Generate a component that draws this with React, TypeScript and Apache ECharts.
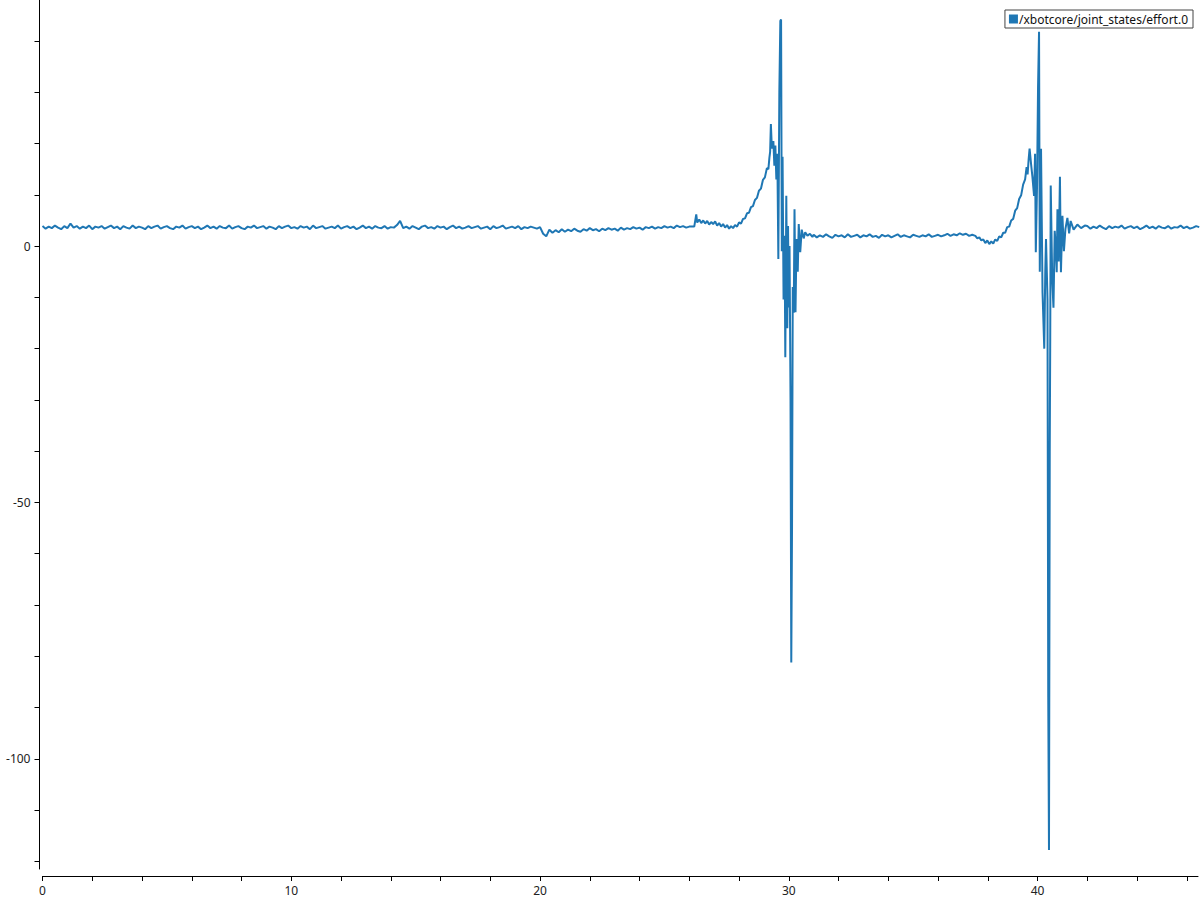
import React, { useEffect, useRef } from 'react';
import * as echarts from 'echarts';

const seriesName = '/xbotcore/joint_states/effort.0';

// evenly sampled quiet stretches (sample period in s)
const sampleStep = 0.125;
const quietStart = [
  3.9, 3.4, 3.8, 3.5, 4.0, 3.6, 3.3, 3.9, 3.5, 4.4, 3.6, 3.9, 3.4, 3.8, 3.5, 4.0, 3.3, 3.8, 3.6, 3.9,
  3.4, 3.7, 4.0, 3.5, 3.8, 3.3, 3.9, 3.6, 3.4, 4.0, 3.5, 3.8, 3.6, 3.3, 3.9, 3.5, 3.8, 4.0, 3.4, 3.7,
  3.9, 3.5, 3.3, 3.8, 3.6, 4.0, 3.4, 3.7, 3.9, 3.5, 3.8, 3.3, 3.6, 4.0, 3.5, 3.8, 3.4, 3.9, 3.6, 3.5,
  4.0, 3.4, 3.7, 3.9, 3.5, 3.3, 3.8, 3.6, 4.0, 3.5, 3.7, 3.9, 3.4, 3.8, 3.6, 3.3, 3.9, 3.5, 3.8, 4.0,
  3.5, 3.7, 3.4, 3.9, 3.6, 3.8, 3.3, 4.0, 3.5, 3.7, 3.9, 3.4, 3.6, 3.8, 3.5, 4.0, 3.4, 3.7, 3.9, 3.5,
  3.8, 3.3, 3.6, 4.0, 3.5, 3.8, 3.4, 3.9, 3.6, 3.5, 3.9, 3.4, 3.7, 3.6, 4.1, 4.9, 3.5, 3.8, 3.4, 3.9,
  3.6, 3.3, 3.8, 4.0, 3.5, 3.7, 3.4, 3.9, 3.6, 3.8, 3.3, 3.7, 4.0, 3.5, 3.8, 3.4, 3.6, 3.9, 3.5, 3.7,
  3.9, 3.4, 3.6, 3.8, 3.3, 3.9, 3.5, 3.7, 4.0, 3.4, 3.6, 3.8, 3.5, 3.9, 3.3, 3.7, 3.5, 3.8, 3.6, 3.4,
  3.7,
];
const quietMid = [
  2.4, 1.9, 3.2, 2.6, 3.1, 2.7, 3.3, 2.8, 3.2, 2.9, 3.4, 3.0, 2.8, 3.3, 3.0, 3.5, 3.1, 3.3, 2.9, 3.4,
  3.1, 3.5, 3.2, 3.4, 3.0, 3.6, 3.2, 3.5, 3.3, 3.7, 3.4, 3.6, 3.2, 3.7, 3.5, 3.8, 3.4, 3.7, 3.5, 3.9,
  3.6, 3.8, 3.5, 4.0, 3.7, 3.9, 3.6, 3.8,
];
const plateau = [
  2.2, 1.7, 2.1, 1.8, 2.3, 1.9, 1.6, 2.2, 1.9, 2.1, 1.7, 2.3, 1.8, 2.0, 2.2, 1.7, 2.1, 1.9, 2.3, 1.8,
  2.0, 1.6, 2.2, 1.9, 2.1, 1.7, 2.0, 2.3, 1.8, 2.1, 1.9, 1.7, 2.2, 2.0, 1.8, 2.1, 1.9, 2.3, 1.8, 2.0,
  2.2, 1.9, 2.1, 2.4, 2.0, 2.3, 2.1, 2.5, 2.2, 2.4, 2.0, 2.2,
];
const quietEnd = [
  3.9, 3.4, 3.8, 3.5, 4.0, 3.6, 3.3, 3.9, 3.5, 3.8, 3.6, 4.0, 3.4, 3.7, 3.9, 3.5, 3.8, 3.3, 3.6, 4.0,
  3.5, 3.8, 3.4, 3.9, 3.6, 3.5, 3.9, 3.4, 3.7, 3.6, 4.0, 3.5, 3.8, 3.4, 3.6, 3.9, 3.7,
];

// first contact burst [t, effort]
const burst1: [number, number][] = [
  [26.2, 3.8], [26.28, 6.2], [26.32, 4.6], [26.4, 5.2], [26.48, 4.5], [26.56, 5.0], [26.64, 4.4], [26.72, 4.9],
  [26.8, 4.2], [26.88, 4.7], [26.96, 4.3], [27.04, 4.8], [27.12, 4.0], [27.2, 4.5], [27.28, 3.8], [27.36, 4.3],
  [27.44, 3.6], [27.52, 4.1], [27.6, 3.4], [27.68, 3.9], [27.76, 3.5], [27.84, 4.1], [27.92, 3.8], [28.0, 4.6],
  [28.08, 4.4], [28.16, 5.3], [28.24, 5.4], [28.32, 6.4], [28.4, 6.5], [28.48, 7.6], [28.56, 7.8], [28.64, 9.0],
  [28.72, 9.4], [28.8, 10.8], [28.88, 11.2], [28.96, 12.9], [29.04, 13.4], [29.12, 15.2], [29.18, 15.0],
  [29.22, 17.2], [29.25, 18.4], [29.28, 23.8], [29.32, 19.0], [29.38, 20.5], [29.42, 15.7], [29.46, 19.6],
  [29.5, 13.0], [29.54, 18.0], [29.58, -2.5], [29.62, 30.0], [29.66, 43.9], [29.69, 44.2], [29.72, -1.0],
  [29.75, 17.4], [29.79, -10.4], [29.83, 2.0], [29.86, -21.7], [29.9, 9.8], [29.94, -16.0], [29.97, 3.9],
  [30.0, -12.0], [30.03, 0.0], [30.07, -30.0], [30.1, -81.2], [30.13, -55.0], [30.16, -8.0], [30.2, -13.0],
  [30.23, 7.2], [30.27, -12.9], [30.31, 1.4], [30.36, -5.0], [30.4, 4.3], [30.46, -1.2], [30.52, 3.2],
  [30.6, 1.5], [30.66, 2.7], [30.75, 2.0], [30.85, 2.4], [30.95, 1.8],
];

// second contact burst [t, effort]
const burst2: [number, number][] = [
  [37.5, 2.0], [37.58, 1.5], [37.66, 1.7], [37.74, 1.1], [37.82, 1.3], [37.9, 0.6], [37.98, 1.1], [38.06, 0.4],
  [38.14, 0.9], [38.22, 0.5], [38.3, 1.3], [38.38, 1.0], [38.46, 1.9], [38.54, 1.7], [38.62, 2.6], [38.7, 2.6],
  [38.78, 3.7], [38.86, 3.8], [38.94, 5.0], [39.02, 5.3], [39.1, 6.9], [39.18, 7.4], [39.26, 9.2], [39.34, 9.9],
  [39.42, 12.0], [39.5, 13.0], [39.56, 15.4], [39.6, 14.0], [39.64, 16.8], [39.68, 19.0], [39.74, 16.0],
  [39.79, 13.7], [39.86, 9.8], [39.9, 18.0], [39.93, -1.2], [39.98, 12.0], [40.02, 31.0], [40.06, 41.8],
  [40.09, -5.0], [40.14, 19.0], [40.2, -9.0], [40.27, -20.0], [40.31, -5.0], [40.34, 1.4], [40.4, -10.4],
  [40.43, -88.0], [40.46, -117.8], [40.49, -40.0], [40.51, -17.8], [40.53, 11.8], [40.59, -6.4],
  [40.64, -12.0], [40.69, 3.0], [40.73, 0.0], [40.77, -5.1], [40.8, 7.2], [40.85, -3.0], [40.9, 13.5],
  [40.94, -5.1], [41.0, 5.9], [41.06, -1.0], [41.12, 3.3], [41.2, 5.5], [41.27, 2.5], [41.33, 4.9],
  [41.45, 3.2], [41.6, 4.2], [41.75, 3.5], [41.9, 4.0],
];

const xTicks = [0, 2, 4, 6, 8, 10, 12, 14, 16, 18, 20, 22, 24, 26, 28, 30, 32, 34, 36, 38, 40, 42, 44, 46];
const xLabels = [0, 10, 20, 30, 40];
const yTicks = [-120, -110, -100, -90, -80, -70, -60, -50, -40, -30, -20, -10, 0, 10, 20, 30, 40];
const yLabels = [-100, -50, 0];

const sampled = (start: number, values: number[]) =>
  values.map((v, i) => [start + i * sampleStep, v]);

const App = () => {
  const chartRef = useRef<HTMLDivElement>(null);

  useEffect(() => {
    if (!chartRef.current) return;
    const chart = echarts.init(chartRef.current, null, { renderer: 'svg' });

    const data = [
      ...sampled(0, quietStart),
      ...sampled(20.125, quietMid),
      ...burst1,
      ...sampled(31.0, plateau),
      ...burst2,
      ...sampled(42.0, quietEnd),
    ];

    const axisText = { color: '#222', fontSize: 12, fontFamily: 'Noto Sans' };

    const option: echarts.EChartsOption = {
      animation: false,
      backgroundColor: '#fff',
      grid: { left: 42.5, right: 2, top: 0, bottom: 31 },
      legend: {
        right: 7,
        top: 10,
        backgroundColor: '#fff',
        borderColor: '#444',
        borderWidth: 1,
        borderRadius: 0,
        padding: [3, 5, 3, 4],
        icon: 'rect',
        itemWidth: 9,
        itemHeight: 9,
        textStyle: { color: '#111', fontSize: 12, fontFamily: 'Noto Sans', padding: [0, 0, 0, -4] },
        data: [seriesName],
      },
      xAxis: {
        type: 'value',
        min: 0,
        max: 46.45,
        offset: 7,
        splitLine: { show: false },
        axisLine: { onZero: false, lineStyle: { color: '#000', width: 1 } },
        axisTick: { show: true, length: 5, customValues: xTicks, lineStyle: { color: '#000' } },
        axisLabel: { ...axisText, margin: 8, customValues: xLabels },
      },
      yAxis: {
        type: 'value',
        min: -121.5,
        max: 48,
        offset: 3,
        splitLine: { show: false },
        axisLine: { show: true, onZero: false, lineStyle: { color: '#000', width: 1 } },
        axisTick: { show: true, length: 5, customValues: yTicks, lineStyle: { color: '#000' } },
        axisLabel: { ...axisText, margin: 9, customValues: yLabels },
      },
      series: [
        {
          name: seriesName,
          type: 'line',
          data,
          showSymbol: false,
          color: '#1f77b4',
          lineStyle: { color: '#1f77b4', width: 2 },
        },
      ],
    };
    chart.setOption(option);

    return () => {
      chart.dispose();
    };
  }, []);

  return (
    <div
      ref={chartRef}
      style={{ position: 'fixed', left: 0, top: 0, width: '1200px', height: '900px', background: '#fff' }}
    />
  );
};

export default App;
